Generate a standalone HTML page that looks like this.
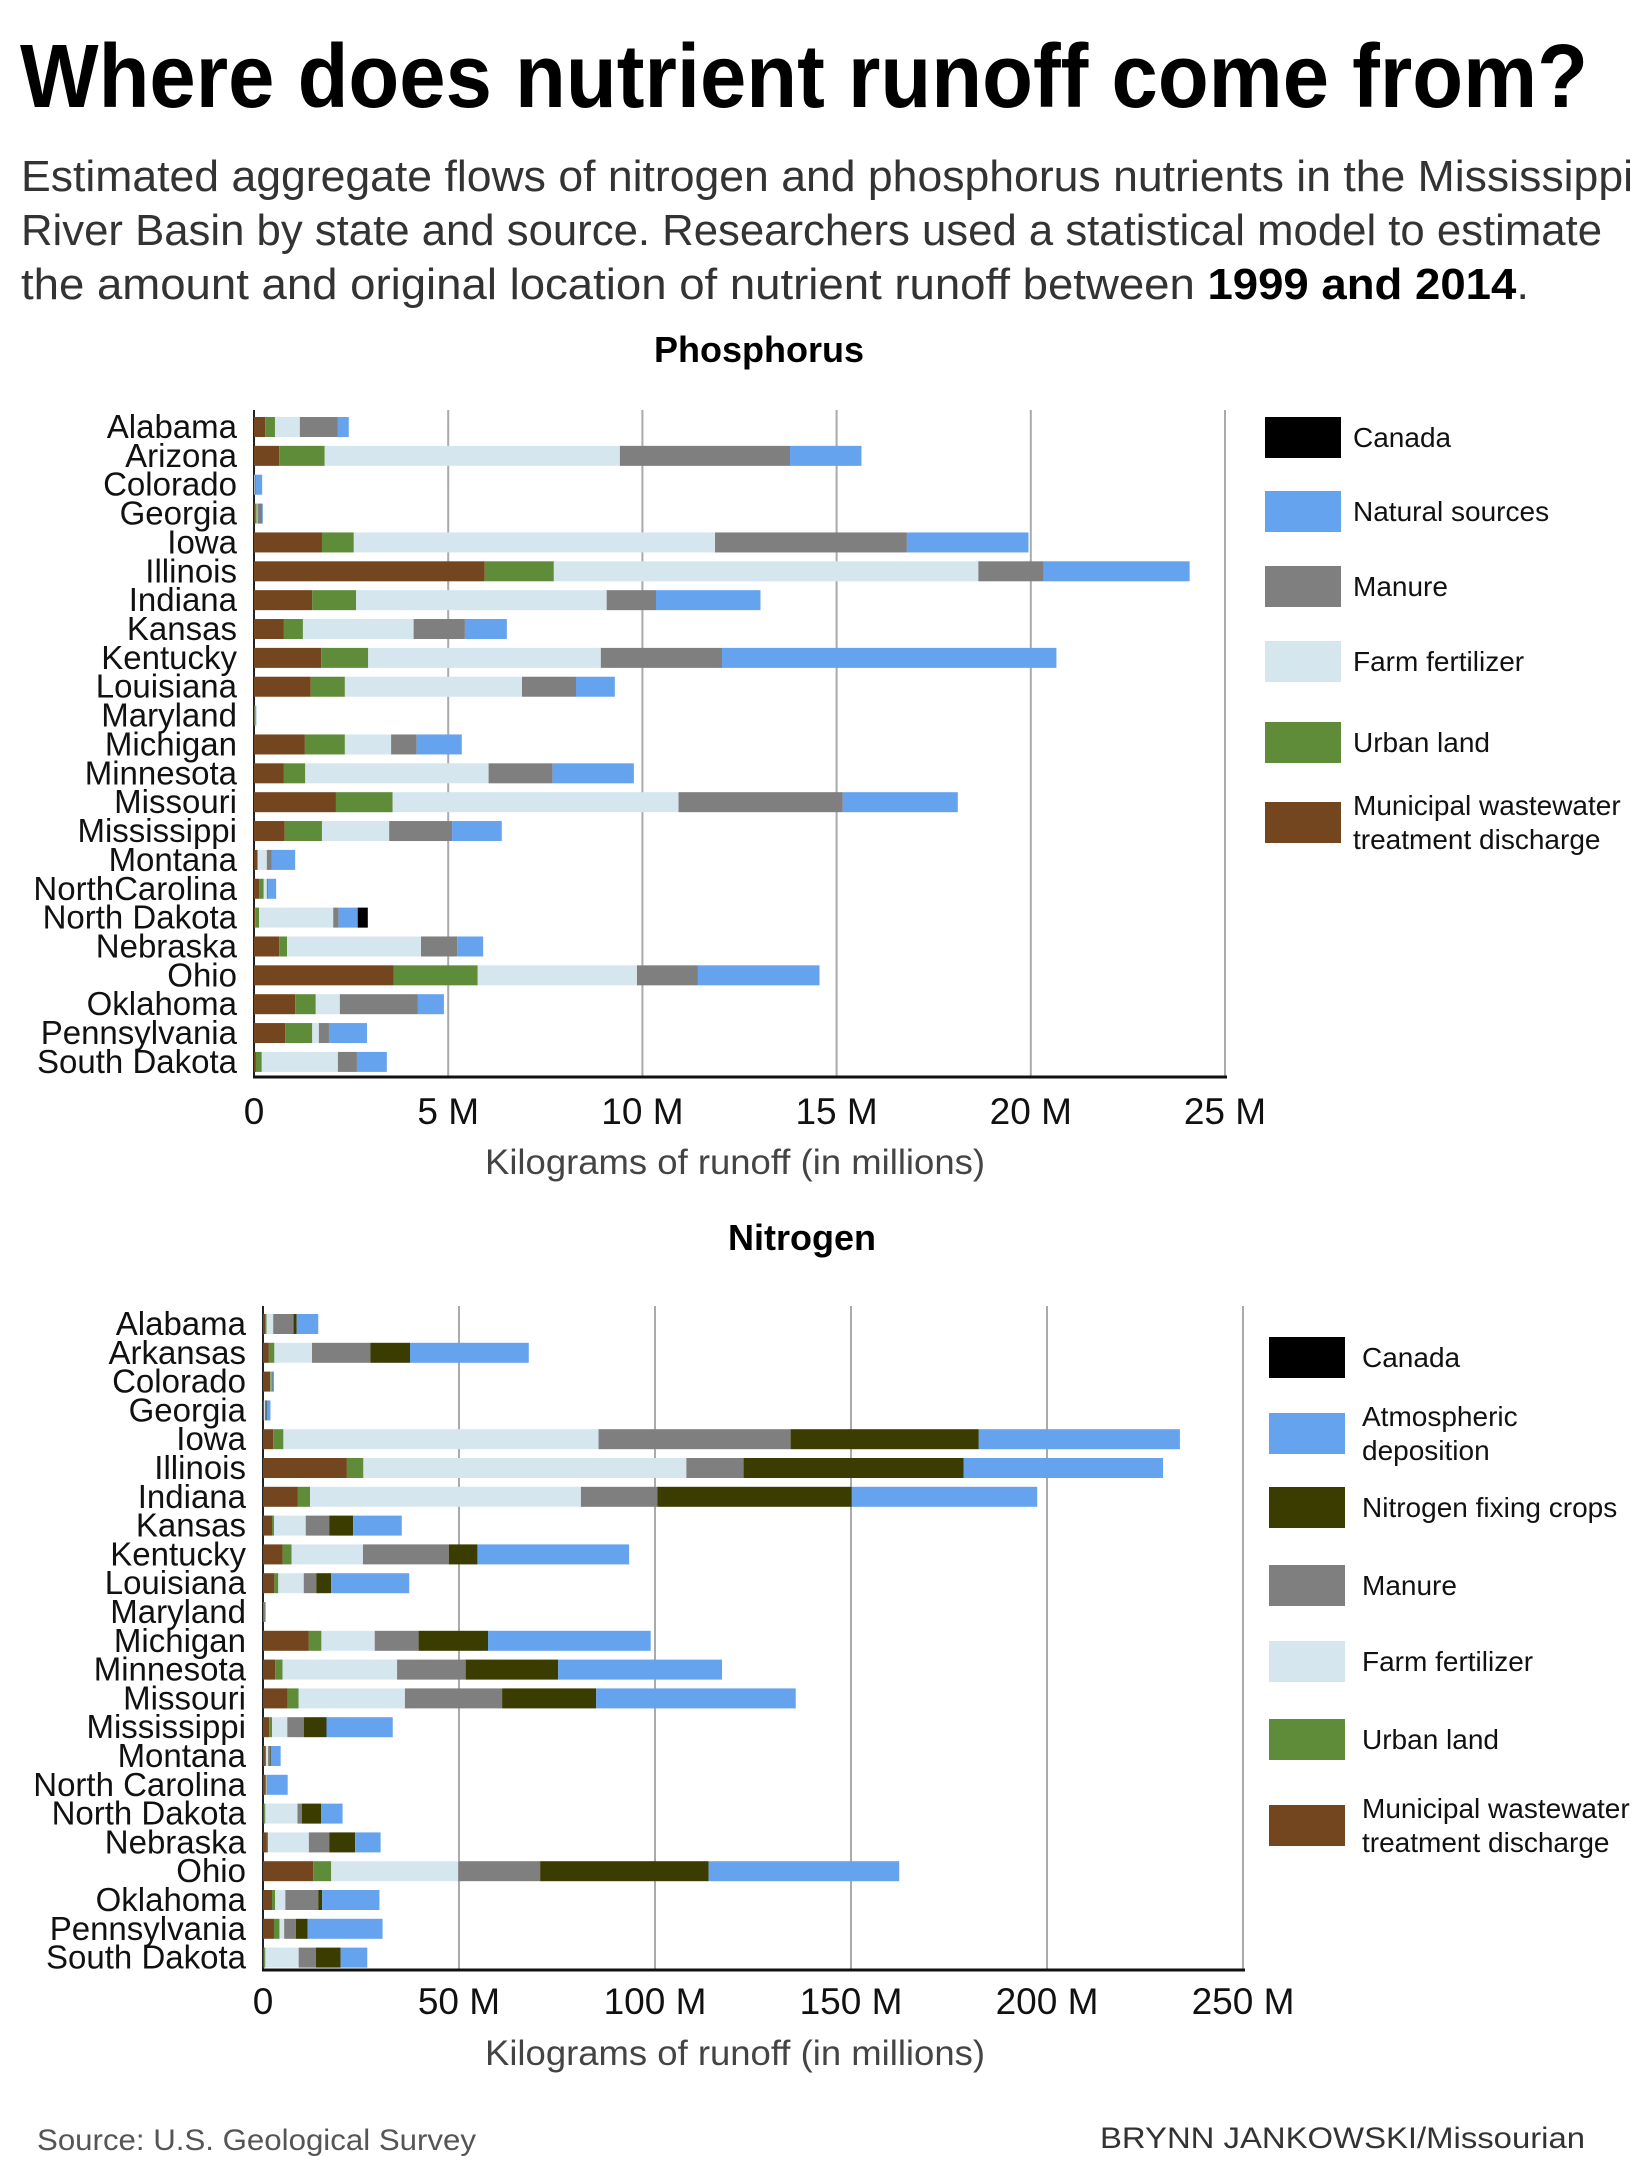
<!DOCTYPE html>
<html><head><meta charset="utf-8"><style>
html,body{margin:0;padding:0;background:#fff;}
svg{display:block;font-family:"Liberation Sans",sans-serif;}
</style></head><body>
<svg id="root" width="1650" height="2161" viewBox="0 0 1650 2161">
<text x="20" y="107" font-size="90" font-weight="bold" textLength="1568" lengthAdjust="spacingAndGlyphs">Where does nutrient runoff come from?</text>
<g font-size="44" fill="#333">
<text x="21" y="191" textLength="1612" lengthAdjust="spacingAndGlyphs">Estimated aggregate flows of nitrogen and phosphorus nutrients in the Mississippi</text>
<text x="21" y="245" textLength="1581" lengthAdjust="spacingAndGlyphs">River Basin by state and source. Researchers used a statistical model to estimate</text>
<text x="21" y="299" textLength="1508" lengthAdjust="spacingAndGlyphs">the amount and original location of nutrient runoff between <tspan font-weight="bold" fill="#000">1999 and 2014</tspan>.</text>
</g>
<text x="759" y="362" font-size="36" font-weight="bold" text-anchor="middle">Phosphorus</text>
<text x="802" y="1250" font-size="36" font-weight="bold" text-anchor="middle">Nitrogen</text>
<g id="pchart"></g>
<g id="nchart"></g>
<g id="plegend"></g>
<g id="nlegend"></g>
<text x="37" y="2150" font-size="30" fill="#555" textLength="439" lengthAdjust="spacingAndGlyphs">Source: U.S. Geological Survey</text>
<text x="1100" y="2148" font-size="30" fill="#333" textLength="485" lengthAdjust="spacingAndGlyphs">BRYNN JANKOWSKI/Missourian</text>
</svg>
<script>
const pStates=["Alabama","Arizona","Colorado","Georgia","Iowa","Illinois","Indiana","Kansas","Kentucky","Louisiana","Maryland","Michigan","Minnesota","Missouri","Mississippi","Montana","NorthCarolina","North Dakota","Nebraska","Ohio","Oklahoma","Pennsylvania","South Dakota"];
const pWastewater=[.29,.65,0,.02,1.75,5.94,1.5,.77,1.73,1.46,.01,1.31,.77,2.11,.79,.08,.13,.03,.65,3.6,1.06,.8,.05];
const pUrban=[.25,1.17,0,.05,.82,1.78,1.13,.49,1.21,.88,.01,1.03,.55,1.46,.96,.02,.12,.1,.2,2.16,.53,.7,.15];
const pFertilizer=[.64,7.6,.02,.02,9.3,10.93,6.45,2.85,5.99,4.56,.01,1.19,4.72,7.36,1.73,.23,.08,1.91,3.45,4.1,.62,.17,1.96];
const pManure=[.98,4.38,.03,.12,4.94,1.68,1.27,1.32,3.12,1.39,.01,.66,1.65,4.23,1.62,.13,.03,.14,.93,1.57,2.01,.26,.49];
const pNatural=[.28,1.84,.16,.02,3.13,3.76,2.69,1.08,8.61,1.0,.02,1.16,2.09,2.96,1.28,.6,.21,.49,.67,3.13,.67,.98,.77];
const pCanada=[0,0,0,0,0,0,0,0,0,0,0,0,0,0,0,0,0,.26,0,0,0,0,0];
const pTicks=["0","5 M","10 M","15 M","20 M","25 M"];
const pTickVals=[0,5,10,15,20,25];

const nStates=["Alabama","Arkansas","Colorado","Georgia","Iowa","Illinois","Indiana","Kansas","Kentucky","Louisiana","Maryland","Michigan","Minnesota","Missouri","Mississippi","Montana","North Carolina","North Dakota","Nebraska","Ohio","Oklahoma","Pennsylvania","South Dakota"];
const nWastewater=[.6,1.5,1.8,.2,2.6,21.4,8.8,2.3,5,2.9,.1,11.7,3.1,6.3,1.6,.5,.5,.3,1,12.8,2.3,2.8,.3];
const nUrban=[.3,1.4,.2,.1,2.6,4.2,3.2,.5,2.3,1,.1,3.2,1.9,2.8,.7,.3,.3,.3,.3,4.6,.8,1.4,.3];
const nFertilizer=[1.7,9.6,.1,.2,80.4,82.4,69.1,8.1,18.2,6.5,.1,13.6,29.2,27.1,3.9,.5,.1,8.2,10.4,32.4,2.6,1.2,8.5];
const nManure=[5.2,14.9,.2,.2,49,14.6,19.5,6,21.9,3.2,.1,11.2,17.5,24.8,4.2,.5,.1,1.1,5.2,20.9,8.4,3,4.4];
const nFixing=[.8,10.1,.1,.2,48,56.1,49.6,6.1,7.3,3.8,.1,17.7,23.6,24,5.8,.2,.1,4.9,6.6,43,1,3,6.3];
const nAtmo=[5.5,30.3,.4,1.0,51.3,50.9,47.3,12.4,38.7,19.9,.2,41.5,41.8,50.9,16.9,2.5,5.2,5.5,6.5,48.6,14.6,19.1,6.8];
const nCanada=[0,0,0,0,0,0,0,0,0,0,0,0,0,0,0,0,0,0,0,0,0,0,0];
const nTicks=["0","50 M","100 M","150 M","200 M","250 M"];
const nTickVals=[0,50,100,150,200,250];

const NS="http://www.w3.org/2000/svg";
function mk(tag,attrs,parent){const e=document.createElementNS(NS,tag);for(const k in attrs)e.setAttribute(k,attrs[k]);parent.appendChild(e);return e;}

function drawChart(g,cfg){
  const x=v=>cfg.x0+v*cfg.scale;
  const y=i=>cfg.y0+i*cfg.step;
  cfg.tickVals.forEach((tv,k)=>{
    const l=mk('line',{x1:x(tv),x2:x(tv),y1:cfg.top,y2:cfg.axisY,stroke:tv===0?'#222':'#aaa','stroke-width':2},g);
    
    
    const t=mk('text',{x:x(tv),y:cfg.tickY,'font-size':37,'text-anchor':'middle',fill:'#111'},g);
    t.textContent=cfg.ticks[k];
    
    
  });
  const ax=mk('line',{x1:cfg.x0-1,x2:x(cfg.tickVals[cfg.tickVals.length-1])+2,y1:cfg.axisY,y2:cfg.axisY,stroke:'#111','stroke-width':3},g);
  
  
  const at=mk('text',{x:485,y:cfg.titleY,'font-size':35,fill:'#444',textLength:500,lengthAdjust:'spacingAndGlyphs'},g);
  at.textContent='Kilograms of runoff (in millions)';
  
  
  cfg.states.forEach((s,i)=>{
    const t=mk('text',{x:cfg.labelX,y:y(i)+11,'font-size':33,'text-anchor':'end',fill:'#111'},g);
    t.textContent=s;
    
    
    let acc=0;
    cfg.series.forEach((ser,si)=>{
      const v=ser[i];
      if(v<=0)return;
      const r=mk('rect',{x:x(acc),y:y(i)-cfg.barH/2,width:v*cfg.scale,height:cfg.barH,fill:cfg.colors[si]},g);
      
      
      acc+=v;
    });
  });
}
const C={brown:'#74461f',green:'#5f8c39',light:'#d6e6ef',gray:'#7f7f7f',blue:'#65a3ee',olive:'#3a3c00',black:'#000'};
drawChart(document.getElementById('pchart'),{x0:254,scale:38.84,y0:427,step:28.86,barH:20,top:410,axisY:1077,tickY:1124,titleY:1174,labelX:237,
  states:pStates,ticks:pTicks,tickVals:pTickVals,
  series:[pWastewater,pUrban,pFertilizer,pManure,pNatural,pCanada],
  colors:[C.brown,C.green,C.light,C.gray,C.blue,C.black]});
drawChart(document.getElementById('nchart'),{x0:263,scale:3.92,y0:1324,step:28.8,barH:20,top:1306,axisY:1970,tickY:2014,titleY:2065,labelX:246,
  states:nStates,ticks:nTicks,tickVals:nTickVals,
  series:[nWastewater,nUrban,nFertilizer,nManure,nFixing,nAtmo,nCanada],
  colors:[C.brown,C.green,C.light,C.gray,C.olive,C.blue,C.black]});

function legend(g,sx,tx,items){
  items.forEach(it=>{
    const r=mk('rect',{x:sx,y:it.y-20,width:76,height:41,fill:it.c},g);
    
    
    const lines=it.t;
    lines.forEach((ln,k)=>{
      const t=mk('text',{x:tx,y:it.y+10+(k-(lines.length-1)/2)*34,'font-size':28,fill:'#111'},g);
      t.textContent=ln;
      
      
    });
  });
}
legend(document.getElementById('plegend'),1265,1353,[
 {y:437,c:C.black,t:['Canada']},{y:511,c:C.blue,t:['Natural sources']},{y:586,c:C.gray,t:['Manure']},
 {y:661,c:C.light,t:['Farm fertilizer']},{y:742,c:C.green,t:['Urban land']},{y:822,c:C.brown,t:['Municipal wastewater','treatment discharge']}]);
legend(document.getElementById('nlegend'),1269,1362,[
 {y:1357,c:C.black,t:['Canada']},{y:1433,c:C.blue,t:['Atmospheric','deposition']},{y:1507,c:C.olive,t:['Nitrogen fixing crops']},
 {y:1585,c:C.gray,t:['Manure']},{y:1661,c:C.light,t:['Farm fertilizer']},{y:1739,c:C.green,t:['Urban land']},{y:1825,c:C.brown,t:['Municipal wastewater','treatment discharge']}]);
</script>
</body></html>
